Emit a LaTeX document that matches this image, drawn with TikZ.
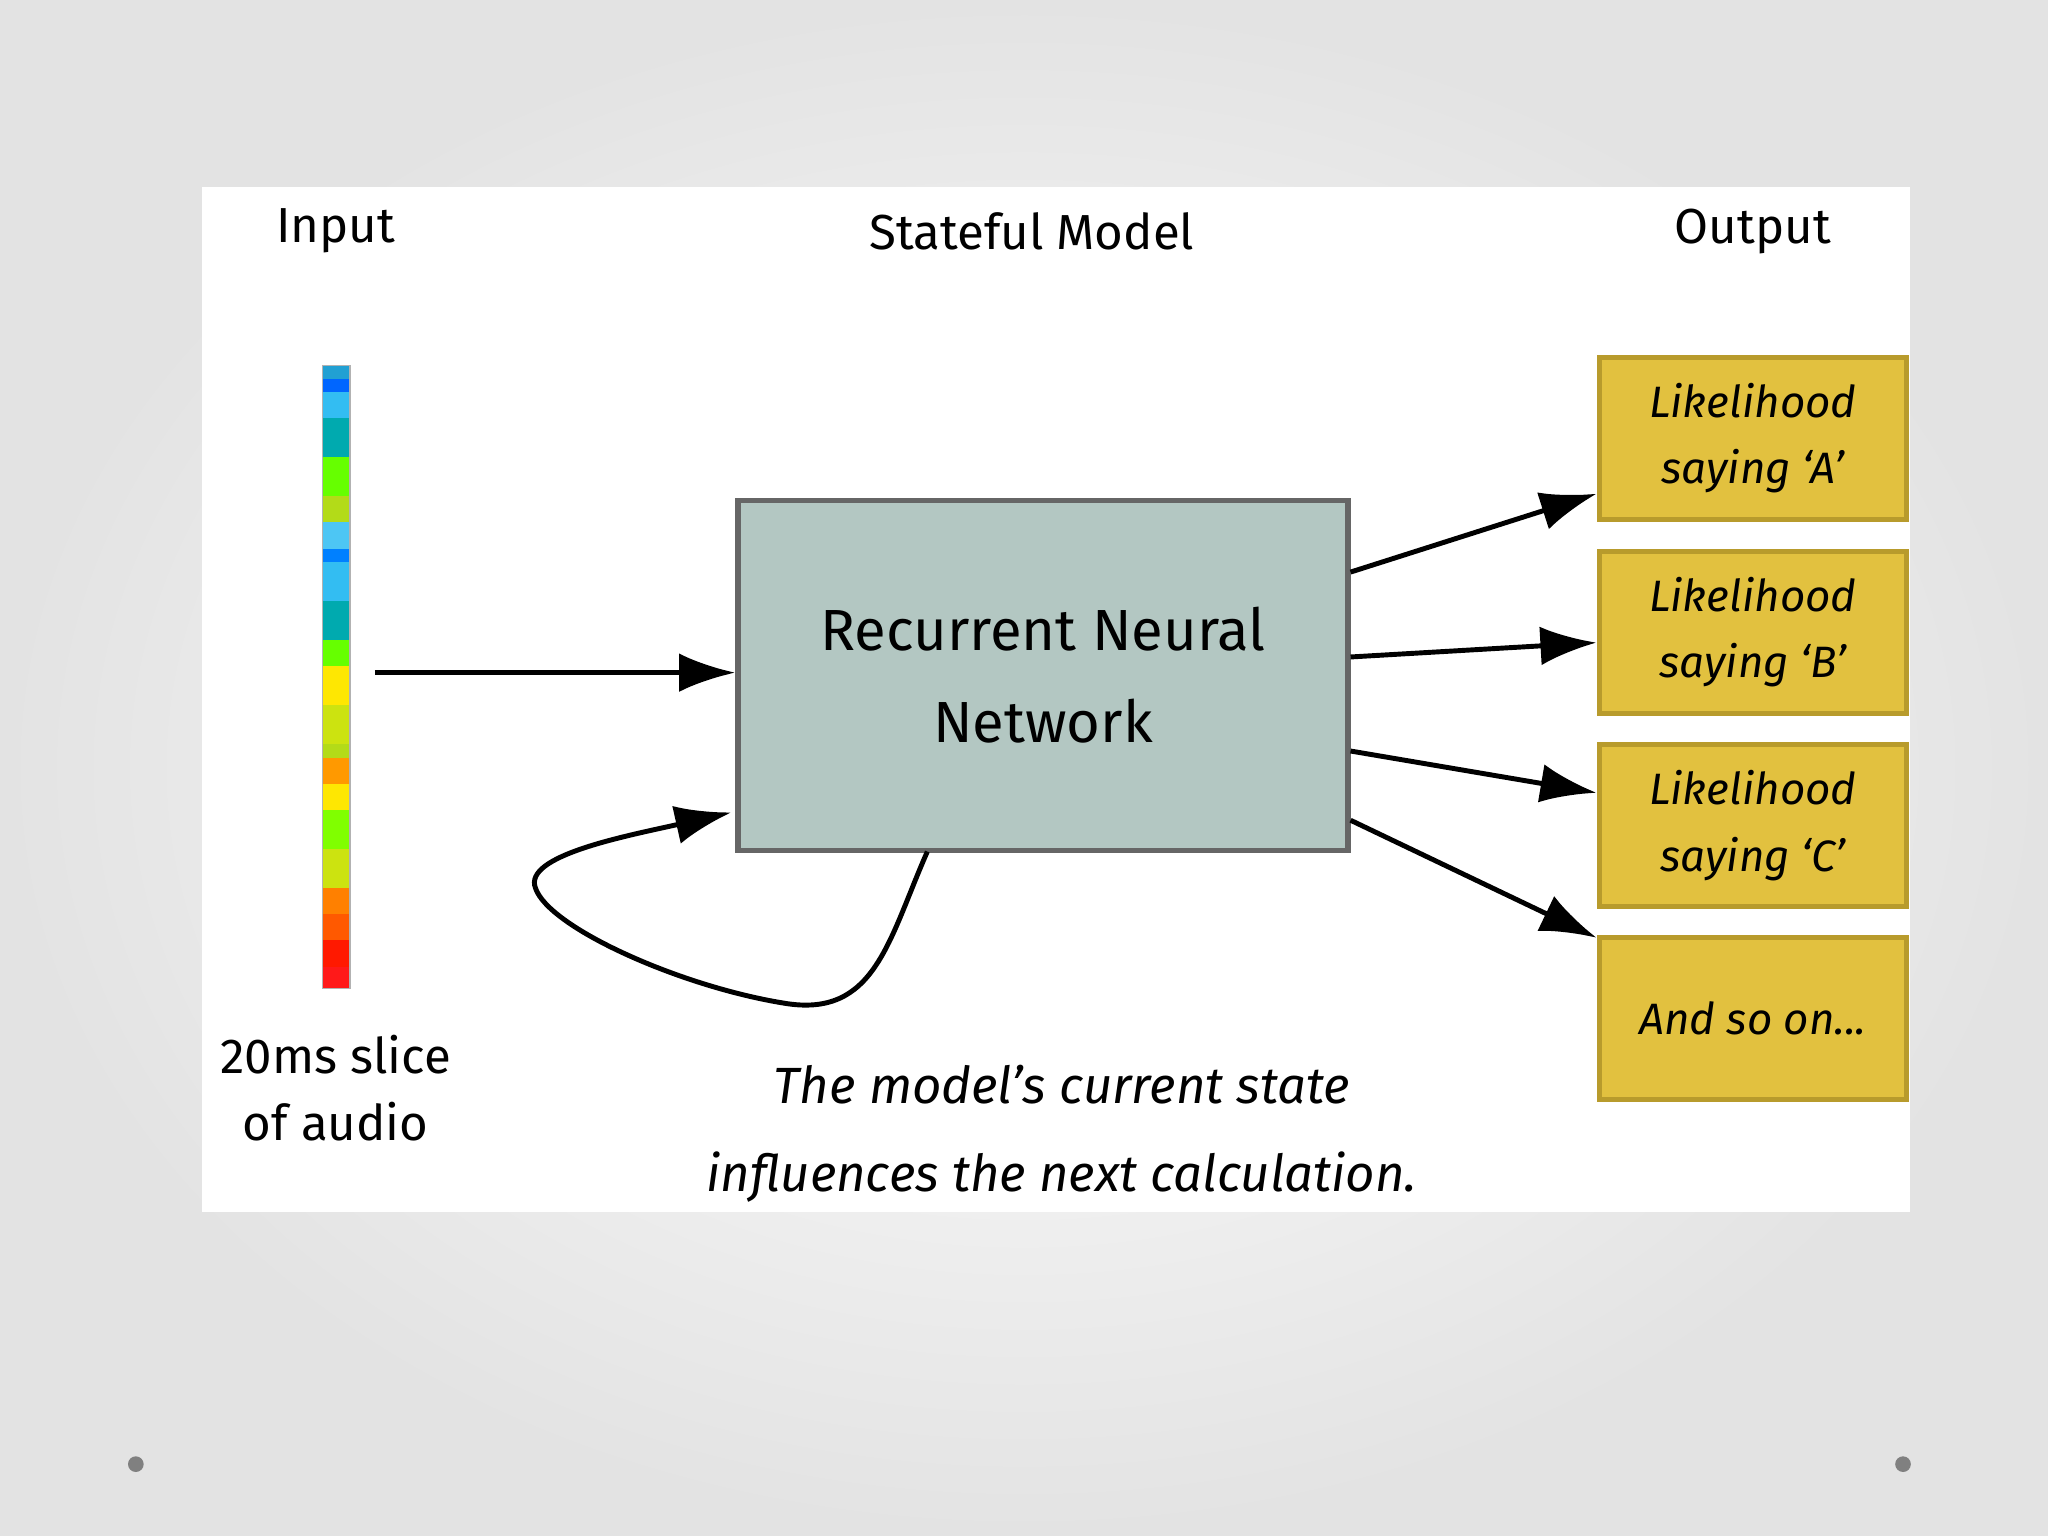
\documentclass[tikz,border=0pt]{standalone}
\usepackage{fontspec}
\setmainfont{Fira Sans}
\usetikzlibrary{arrows.meta}
\definecolor{rnn}{HTML}{B3C7C2}
\definecolor{outf}{HTML}{E2C13F}
\definecolor{outd}{HTML}{B89B2C}
\begin{document}
\begin{tikzpicture}[x=0.013061cm,y=-0.013061cm,
  arr/.style={-{Latex[length=16pt,width=11pt]},line width=1.4pt},
  obox/.style={draw=outd,line width=1.5pt,fill=outf,minimum width=3.07cm,minimum height=1.62cm,align=center,font=\fontsize{12.5}{19}\selectfont\itshape},
  lab/.style={font=\fontsize{14}{19}\selectfont,align=center}]
\useasboundingbox (0,0) rectangle (1568,1176);
\shade[inner color=white,outer color=gray!22] (0,0) rectangle (1568,1176);
\fill[white] (155,143) rectangle (1462,928);
\node[lab] (in) at (257,177) {Input};
\node[lab] (sm) at (790,177) {Stateful Model};
\node[lab] (out) at (1342,177) {Output};
% spectrogram
\foreach \yy/\h/\c in {280/10/cyan!70!teal,290/10/blue!60!cyan,300/20/cyan!80,320/30/cyan!60!green,350/30/green!60!yellow,380/20/yellow!70!green,400/20/cyan!70,420/10/blue!50!cyan,430/30/cyan!80,460/30/cyan!60!green,490/20/green!60!yellow,510/30/yellow!90!orange,540/30/yellow!80!green,570/10/yellow!70!green,580/20/orange!80!yellow,600/20/yellow!90!orange,620/30/green!50!yellow,650/30/yellow!80!green,680/20/orange,700/20/orange!70!red,720/20/red!80!orange,740/17/red!90}
  \fill[\c] (247,\yy) rectangle (268,\yy+\h);
\draw[gray!60] (247,280) rectangle (268,757);
\node[lab] (slice) at (257,833) {20ms slice\\of audio};
\node[draw=gray!80!black,line width=1.5pt,fill=rnn,minimum width=6.1cm,minimum height=3.5cm,align=center,font=\fontsize{16.5}{26}\selectfont] (rnn) at (798.5,517) {Recurrent Neural\\Network};
\node[obox] (oa) at (1342,335.5) {Likelihood\\saying ‘A’};
\node[obox] (ob) at (1342,484) {Likelihood\\saying ‘B’};
\node[obox] (oc) at (1342,632) {Likelihood\\saying ‘C’};
\node[obox] (od) at (1342,780) {And so on...};
\coordinate (s) at (287,515);
\draw[arr] (s) -- (rnn.west |- s);
\draw[arr] (rnn.east |- 0,438) -- (oa.west |- 0,378);
\draw[arr] (rnn.east |- 0,503) -- (ob.west |- 0,492);
\draw[arr] (rnn.east |- 0,575) -- (oc.west |- 0,607);
\draw[arr] (rnn.east |- 0,628) -- (od.west |- 0,718);
\coordinate (l0) at (710,652);
\coordinate (l1) at (560,622);
\draw[arr] (l0) .. controls (680,720) and (670,780) .. (600,768)
  .. controls (520,755) and (420,710) .. (410,680)
  .. controls (400,655) and (480,640) .. (l1);
\node[font=\fontsize{14.5}{25}\selectfont\itshape,align=center] (cap) at (813,868) {The model's current state\\influences the next calculation.};
\fill[gray] (104,1121) circle (6) (1457,1121) circle (6);
\end{tikzpicture}
\end{document}
